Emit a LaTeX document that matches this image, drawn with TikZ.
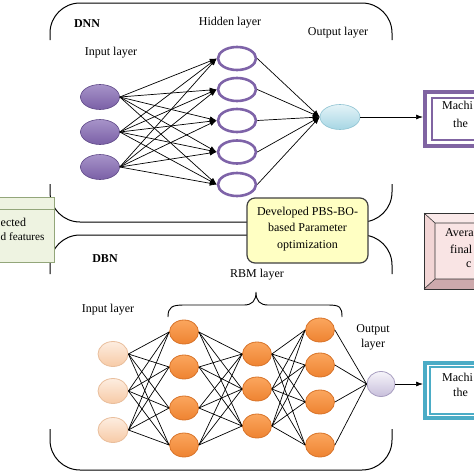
\documentclass[tikz,border=0pt]{standalone}
\usepackage{fontspec}
\setmainfont{Liberation Serif}
\usetikzlibrary{arrows.meta,shapes.geometric}
\definecolor{purpD}{HTML}{5E4887}
\definecolor{purpM}{HTML}{7A60A6}
\definecolor{purpL}{HTML}{A793C9}
\definecolor{hidC}{HTML}{7E63A8}
\definecolor{blueT}{HTML}{E4F3F7}
\definecolor{blueB}{HTML}{A6D6E4}
\definecolor{blueD}{HTML}{8FC3D2}
\definecolor{peachT}{HTML}{FDEDE0}
\definecolor{peachB}{HTML}{F7CAA6}
\definecolor{peachD}{HTML}{E9BE9C}
\definecolor{oranT}{HTML}{FBA65E}
\definecolor{oranB}{HTML}{EE8331}
\definecolor{oranD}{HTML}{D8742A}
\definecolor{lavT}{HTML}{F6F4FA}
\definecolor{lavB}{HTML}{C8BFDB}
\definecolor{lavD}{HTML}{A79DC0}
\definecolor{pbsF}{HTML}{FFFFC3}
\definecolor{featF}{HTML}{EEF3E1}
\definecolor{featD}{HTML}{93A67A}
\definecolor{boxP}{HTML}{8064A2}
\definecolor{boxC}{HTML}{4BACC6}
\definecolor{pinkTop}{HTML}{FAE9E9}
\definecolor{pinkLeft}{HTML}{F2D5D5}
\definecolor{pinkBot}{HTML}{CDA9AC}
\definecolor{pinkFace}{HTML}{F9E4E4}
\begin{document}
\begin{tikzpicture}[x=1pt,y=-1pt,
  every node/.style={font=\fontsize{12}{14}\selectfont, inner sep=0pt},
  lbl/.style={},
  cont/.style={line width=1pt, rounded corners=30pt},
  dinp/.style={ellipse, minimum width=39pt, minimum height=25pt, draw=purpD, line width=0.6pt, top color=purpL, bottom color=purpM},
  dhid/.style={ellipse, minimum width=38pt, minimum height=23pt, draw=hidC, line width=2.6pt, fill=white},
  dout/.style={ellipse, minimum width=40pt, minimum height=25pt, draw=blueD, line width=0.6pt, top color=blueT, bottom color=blueB},
  binp/.style={ellipse, minimum width=30pt, minimum height=25pt, draw=peachD, line width=0.8pt, top color=peachT, bottom color=peachB},
  brbm/.style={ellipse, minimum width=29pt, minimum height=24pt, draw=oranD, line width=0.8pt, top color=oranT, bottom color=oranB},
  bout/.style={ellipse, minimum width=28pt, minimum height=25pt, draw=lavD, line width=0.8pt, top color=lavT, bottom color=lavB},
  arr/.style={-{Latex[length=7pt,width=5pt]}, line width=0.7pt},
  link/.style={line width=0.7pt},
]
\useasboundingbox (0,0) rectangle (474,474);
\clip (0,0) rectangle (474,474);

% containers
\draw[cont] (50,40) |- (392,3) -- (392,40);
\draw[cont] (50,184) |- (392,222) -- (392,184);
\draw[cont] (50,274) |- (392,235) -- (392,274);
\draw[cont] (50,429) |- (392,470) -- (392,429);

% left feature box
\draw[featD, fill=featF, line width=0.8pt] (-10,197) rectangle (54,262);
\draw[featD, line width=0.6pt] (-10,209) -- (54,209);
\node[lbl, anchor=west] (f1) at (0.5,222) {ected};
\node[lbl, anchor=west, font=\fontsize{11.2}{13}\selectfont] (f2) at (0.5,237) {d features};

% PBS box
\node[draw=black!75, line width=1.2pt, fill=pbsF, rounded corners=8pt, minimum width=121pt, minimum height=65pt] (pbs) at (307.5,230.5) {};
\node[align=center, font=\fontsize{12}{16.5}\selectfont] (pbst) at (307.5,229) {Developed PBS-BO-\\based Parameter\\optimization};

% DNN labels
\node[font=\bfseries\fontsize{12}{14}\selectfont] (dnn) at (87,24) {DNN};
\node[lbl] (dinl) at (111,53) {Input layer};
\node[lbl] (dhl) at (230,23) {Hidden layer};
\node[lbl] (dol) at (338,33) {Output layer};

% DNN nodes
\node[dinp] (di1) at (100,97) {};
\node[dinp] (di2) at (100,132) {};
\node[dinp] (di3) at (100,167) {};
\foreach \i/\y in {1/58.5,2/89.5,3/120.5,4/152,5/184.5}
  \node[dhid] (dh\i) at (237,\y) {};
\node[dout] (do) at (340,117) {};

\foreach \i in {1,2,3}
  \foreach \j in {1,...,5}
    \draw[arr] (di\i.east) -- (dh\j.west);
\foreach \j in {1,...,5}
  \draw[arr] (dh\j.east) -- (do.west);

% DNN result box
\node[draw=boxP, line width=4pt, minimum width=124pt, minimum height=54pt] (mb1) at (487,119) {};
\draw[boxP, line width=1.4pt] (432,98) rectangle (495,140);
\node[lbl, anchor=west] (mb1a) at (442,105) {Machi};
\node[lbl, anchor=west] (mb1b) at (453,123) {the};
\draw[arr] (do.east) -- (do.east -| mb1.west);

% average box (bevel)
\fill[pinkTop] (424,213) -- (495,213) -- (495,223) -- (435,223) -- cycle;
\fill[pinkLeft] (424,213) -- (435,223) -- (435,279) -- (424,289) -- cycle;
\fill[pinkBot] (424,289) -- (435,279) -- (495,279) -- (495,289) -- cycle;
\fill[pinkFace] (435,223) rectangle (495,279);
\draw[black!80, line width=0.8pt] (424,213) rectangle (495,289);
\draw[black!80, line width=0.6pt] (424,213) -- (435,223) -- (495,223) (435,223) -- (435,279) -- (495,279) (435,279) -- (424,289);
\node[lbl, anchor=west] (av1) at (445,233) {Avera};
\node[lbl, anchor=west] (av2) at (450,249) {final};
\node[lbl, anchor=west] (av3) at (466,265) {c};

% DBN labels
\node[font=\bfseries\fontsize{12}{14}\selectfont] (dbn) at (105,259) {DBN};
\node[lbl] (rbml) at (257,275) {RBM layer};
\node[lbl] (binl) at (108,310) {Input layer};
\node[lbl] (bol1) at (373,330) {Output};
\node[lbl] (bol2) at (373,345) {layer};
\draw[line width=0.9pt] (168,317) .. controls (168,307) and (172,305) .. (184,305) -- (244,305) .. controls (252,305) and (256,301) .. (256,292) .. controls (256,301) and (260,305) .. (268,305) -- (328,305) .. controls (340,305) and (342,307) .. (342,317);

% DBN nodes
\foreach \i/\y in {1/354,2/391,3/430}
  \node[binp] (bi\i) at (113,\y) {};
\foreach \i/\y in {1/332,2/367,3/408,4/445}
  \node[brbm] (ra\i) at (184,\y) {};
\foreach \i/\y in {1/354,2/389,3/426}
  \node[brbm] (rb\i) at (257,\y) {};
\foreach \i/\y in {1/330,2/365,3/402,4/445}
  \node[brbm] (rc\i) at (320,\y) {};
\node[bout] (bo) at (381,384) {};

\foreach \i in {1,2,3}
  \foreach \j in {1,...,4}
    \draw[link] (bi\i.east) -- (ra\j.west);
\foreach \i in {1,...,4}
  \foreach \j in {1,2,3}
    \draw[link] (ra\i.east) -- (rb\j.west);
\foreach \i in {1,2,3}
  \foreach \j in {1,...,4}
    \draw[link] (rb\i.east) -- (rc\j.west);
\foreach \i in {1,...,4}
  \draw[link] (rc\i.east) -- (bo.west);

% DBN result box
\node[draw=boxC, line width=4pt, minimum width=124pt, minimum height=55pt] (mb2) at (487,390.5) {};
\draw[boxC, line width=1.4pt] (430,367) rectangle (495,414);
\node[lbl, anchor=west] (mb2a) at (442,377) {Machi};
\node[lbl, anchor=west] (mb2b) at (453,392) {the};
\draw[arr] (bo.east) -- (bo.east -| mb2.west);
\end{tikzpicture}
\end{document}
